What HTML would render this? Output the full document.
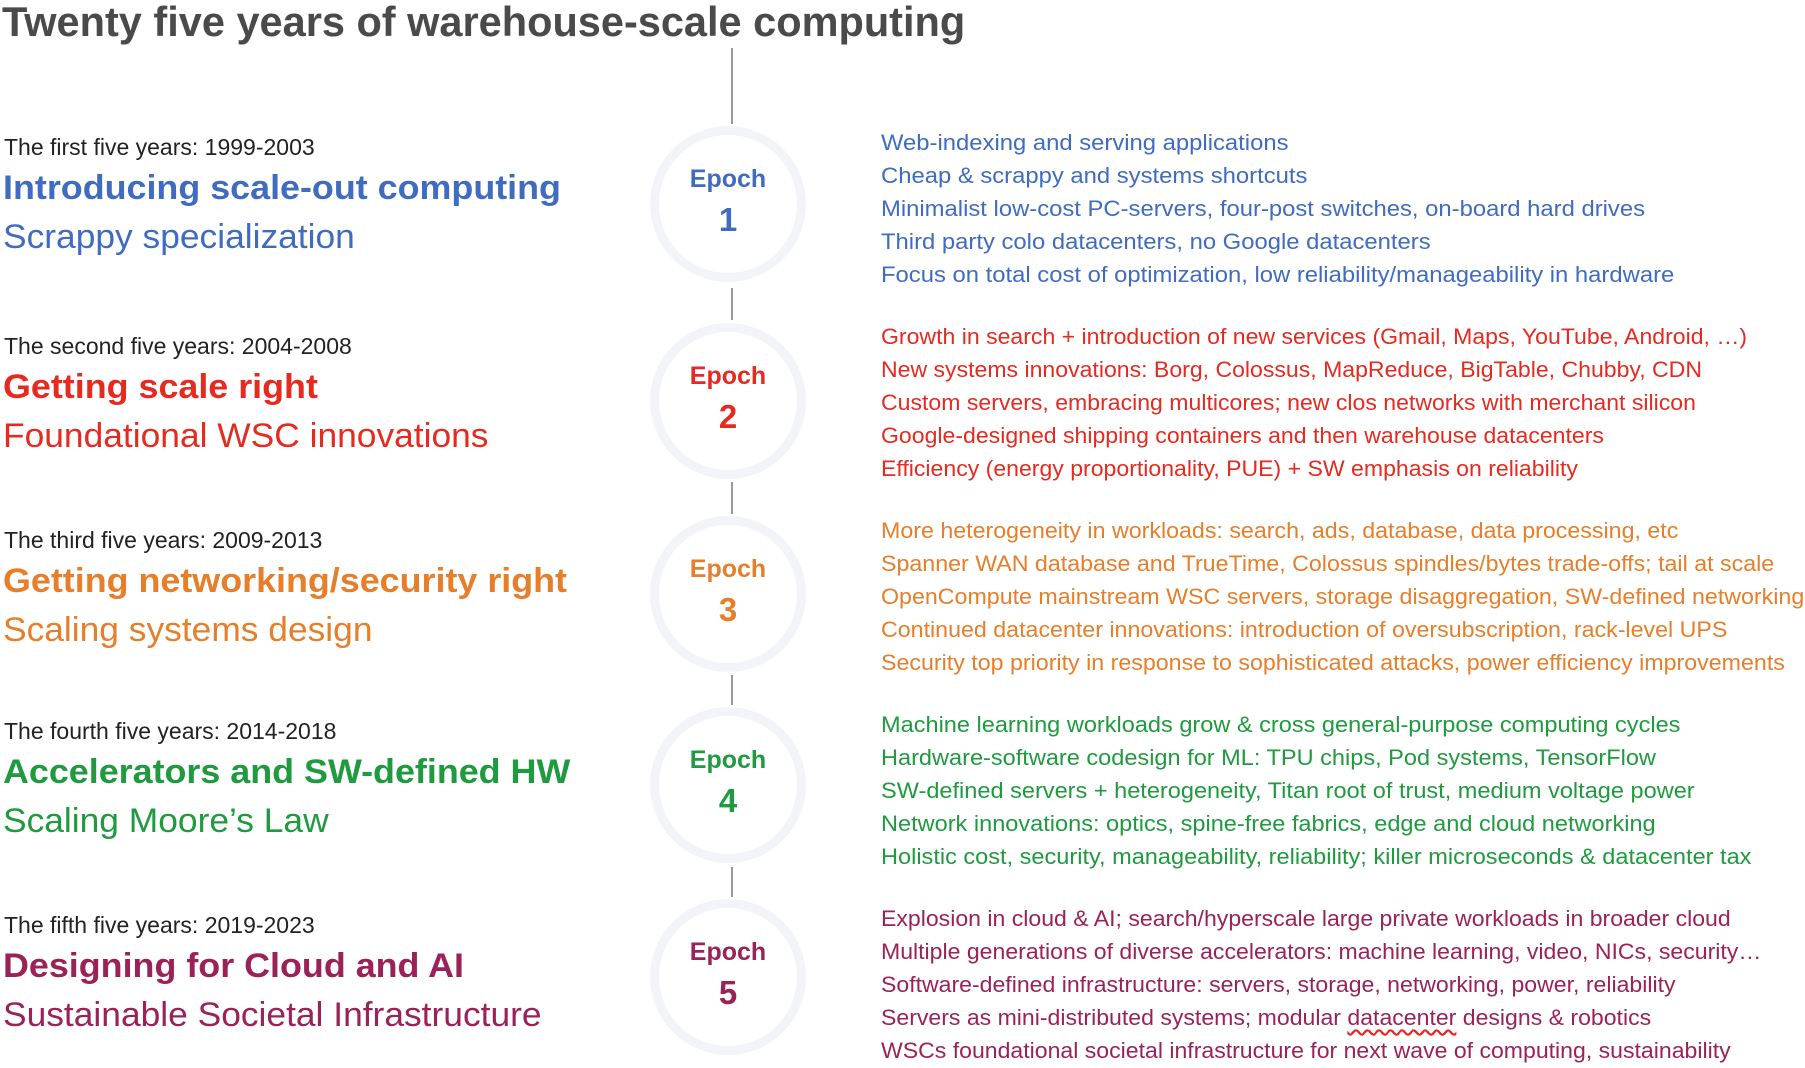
<!DOCTYPE html>
<html><head><meta charset="utf-8"><style>
body{margin:0;width:1805px;height:1068px;background:#fff;position:relative;overflow:hidden;font-family:"Liberation Sans",sans-serif}
.a{position:absolute;white-space:nowrap;transform-origin:0 50%}
.t{left:2px;top:0;font-size:41.5px;font-weight:bold;color:#4a4a4a;line-height:44px}
.y{left:4px;font-size:23px;color:#222;line-height:28px}
.h{left:3px;font-size:34px;font-weight:bold;line-height:40px;transform:scaleX(1.055)}
.s{left:3px;font-size:34px;line-height:40px;transform:scaleX(1.04)}
.r{left:881px;font-size:22px;line-height:33px;transform:scaleX(1.083);transform-origin:0 0}
.c{position:absolute;width:138px;height:138px;border:9px solid #f3f4f8;border-radius:50%;text-align:center;font-weight:bold}
.c .e{position:absolute;left:0;right:0;top:30px;font-size:25px}
.c .n{position:absolute;left:0;right:0;top:66px;font-size:33px}
.v{position:absolute;left:731px;width:2px;background:#999}
</style></head><body>
<div class="a t">Twenty five years of warehouse-scale computing</div>
<div class="v" style="top:48px;height:76px"></div>
<div class="v" style="top:288px;height:32px"></div>
<div class="v" style="top:482px;height:32px"></div>
<div class="v" style="top:675px;height:30px"></div>
<div class="v" style="top:867px;height:30px"></div>

<div class="a y" style="top:133px">The first five years: 1999-2003</div>
<div class="a h" style="top:168px;color:#3f6cc0">Introducing scale-out computing</div>
<div class="a s" style="top:217px;color:#3f6cc0">Scrappy specialization</div>
<div class="c" style="left:650px;top:126px;color:#3f6cc0"><div class="e">Epoch</div><div class="n">1</div></div>
<div class="a r" style="top:126px;color:#3f6cc0">Web-indexing and serving applications<br>Cheap &amp; scrappy and systems shortcuts<br>Minimalist low-cost PC-servers, four-post switches, on-board hard drives<br>Third party colo datacenters, no Google datacenters<br>Focus on total cost of optimization, low reliability/manageability in hardware</div>

<div class="a y" style="top:332px">The second five years: 2004-2008</div>
<div class="a h" style="top:367px;color:#e62a20">Getting scale right</div>
<div class="a s" style="top:416px;color:#e62a20">Foundational WSC innovations</div>
<div class="c" style="left:650px;top:323px;color:#e62a20"><div class="e">Epoch</div><div class="n">2</div></div>
<div class="a r" style="top:320px;color:#e62a20;transform:scaleX(1.048)">Growth in search + introduction of new services (Gmail, Maps, YouTube, Android, …)<br>New systems innovations: Borg, Colossus, MapReduce, BigTable, Chubby, CDN<br>Custom servers, embracing multicores; new clos networks with merchant silicon<br>Google-designed shipping containers and then warehouse datacenters<br>Efficiency (energy proportionality, PUE) + SW emphasis on reliability</div>

<div class="a y" style="top:526px">The third five years: 2009-2013</div>
<div class="a h" style="top:561px;color:#e67e2a">Getting networking/security right</div>
<div class="a s" style="top:610px;color:#e67e2a">Scaling systems design</div>
<div class="c" style="left:650px;top:516px;color:#e67e2a"><div class="e">Epoch</div><div class="n">3</div></div>
<div class="a r" style="top:514px;color:#e67e2a;transform:scaleX(1.055)">More heterogeneity in workloads: search, ads, database, data processing, etc<br>Spanner WAN database and TrueTime, Colossus spindles/bytes trade-offs; tail at scale<br>OpenCompute mainstream WSC servers, storage disaggregation, SW-defined networking<br>Continued datacenter innovations: introduction of oversubscription, rack-level UPS<br>Security top priority in response to sophisticated attacks, power efficiency improvements</div>

<div class="a y" style="top:717px">The fourth five years: 2014-2018</div>
<div class="a h" style="top:752px;color:#1f9a3f">Accelerators and SW-defined HW</div>
<div class="a s" style="top:801px;color:#1f9a3f">Scaling Moore’s Law</div>
<div class="c" style="left:650px;top:707px;color:#1f9a3f"><div class="e">Epoch</div><div class="n">4</div></div>
<div class="a r" style="top:708px;color:#1f9a3f;transform:scaleX(1.07)">Machine learning workloads grow &amp; cross general-purpose computing cycles<br>Hardware-software codesign for ML: TPU chips, Pod systems, TensorFlow<br>SW-defined servers + heterogeneity, Titan root of trust, medium voltage power<br>Network innovations: optics, spine-free fabrics, edge and cloud networking<br>Holistic cost, security, manageability, reliability; killer microseconds &amp; datacenter tax</div>

<div class="a y" style="top:911px">The fifth five years: 2019-2023</div>
<div class="a h" style="top:946px;color:#9a2258">Designing for Cloud and AI</div>
<div class="a s" style="top:995px;color:#9a2258">Sustainable Societal Infrastructure</div>
<div class="c" style="left:650px;top:899px;color:#9a2258"><div class="e">Epoch</div><div class="n">5</div></div>
<div class="a r" style="top:902px;color:#9a2258;transform:scaleX(1.048)">Explosion in cloud &amp; AI; search/hyperscale large private workloads in broader cloud<br>Multiple generations of diverse accelerators: machine learning, video, NICs, security…<br>Software-defined infrastructure: servers, storage, networking, power, reliability<br>Servers as mini-distributed systems; modular <span style="text-decoration:underline wavy #e22;text-underline-offset:4px">datacenter</span> designs &amp; robotics<br>WSCs foundational societal infrastructure for next wave of computing, sustainability</div>
</body></html>
